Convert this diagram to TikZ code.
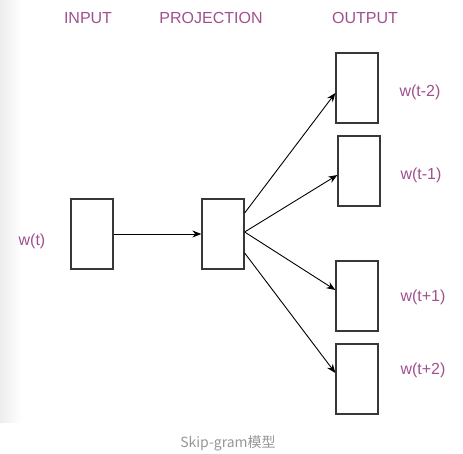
\documentclass[tikz,border=0pt]{standalone}
\usepackage{fontspec}
\setmainfont{Liberation Sans}
\newfontfamily\cjk{Noto Sans CJK SC}
\usepackage{tikz}
\usetikzlibrary {arrows.meta,
                 positioning}
\definecolor{labelpurple}{RGB}{160,80,140}
\definecolor{boxgray}{RGB}{55,55,55}
\definecolor{captiongray}{RGB}{150,150,150}
\tikzset{
        layer/.style={draw=boxgray, line width=1.3pt, rectangle, fill=white,
                      minimum width=42pt, minimum height=70pt, inner sep=0pt},
        head/.style={text=labelpurple, font=\fontsize{16}{19}\selectfont},
        word/.style={text=labelpurple, font=\fontsize{16}{19}\selectfont},
        myarrow/.style={-{Stealth[length=9pt,width=7pt]}, line width=0.9pt},
 }

\begin{document}
\begin{tikzpicture}[x=1pt, y=-1pt]
    \useasboundingbox (0,0) rectangle (463,453);
    % faint shadow on the left edge
    \shade[left color=black!7, right color=white] (0,0) rectangle (22,422);

    \node[head] (hin) at (88,18) {INPUT};
    \node[head] (hproj) at (211,18) {PROJECTION};
    \node[head] (hout) at (365,18) {OUTPUT};

    \node[layer] (in) at (92,234) {};
    \node[layer] (proj) at (223,234) {};
    \node[layer] (o1) at (357,88) {};
    \node[layer] (o2) at (359,171) {};
    \node[layer] (o3) at (357,296) {};
    \node[layer] (o4) at (357,379) {};

    \node[word] (wt) at (32,241) {w(t)};
    \node[word] (w1) at (420,92) {w(t-2)};
    \node[word] (w2) at (421,175) {w(t-1)};
    \node[word] (w3) at (423,297) {w(t+1)};
    \node[word] (w4) at (423,370) {w(t+2)};

    \draw[myarrow] (in) -- (proj);
    \draw[myarrow] ([yshift=21pt]proj.east) -- ([yshift=-5pt]o1.west);
    \draw[myarrow] ([yshift=2pt]proj.east) -- ([yshift=-4pt]o2.west);
    \draw[myarrow] ([yshift=2pt]proj.east) -- ([yshift=6pt]o3.west);
    \draw[myarrow] ([yshift=-19pt]proj.east) -- ([yshift=6pt]o4.west);

    \node[text=captiongray, font=\cjk\fontsize{14}{17}\selectfont] (cap) at (228,443) {Skip-gram模型};
\end{tikzpicture}
\end{document}
